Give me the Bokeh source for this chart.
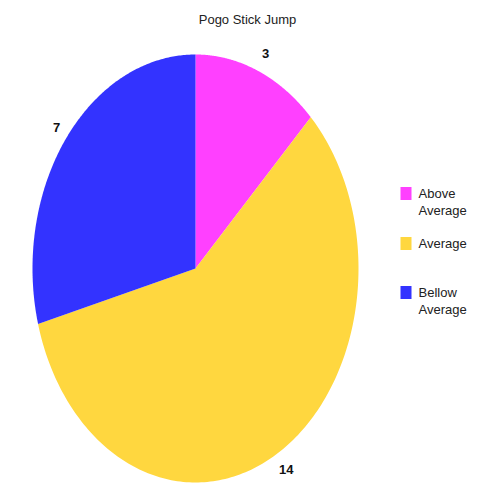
import numpy as np
from bokeh.plotting import figure
from bokeh.core.properties import value
from bokeh.embed import file_html
from bokeh.resources import INLINE

title = "Pogo Stick Jump"
categories = ["Above Average", "Average", "Bellow Average"]
legend_lines = [["Above", "Average"], ["Average"], ["Bellow", "Average"]]
values = [3, 14, 7]
colors = ["#FF40FF", "#FFD73F", "#3333FF"]

# layout (page pixel coordinates)
cx, cy, rx, ry = 195, 268, 163, 214
font = value("Liberation Sans")

p = figure(width=485, height=485, x_range=(0, 485), y_range=(485, 0),
           output_backend="svg", toolbar_location=None, min_border=0)
p.axis.visible = False
p.grid.visible = False
p.outline_line_color = None
p.background_fill_color = "white"

total = sum(values)
start = 0.0
xs, ys, lx, ly = [], [], [], []
for v in values:
    end = start + v / total * 2 * np.pi
    t = np.linspace(start, end, 200)
    xs.append([cx] + list(cx + rx * np.sin(t)) + [cx])
    ys.append([cy] + list(cy - ry * np.cos(t)) + [cy])
    m = (start + end) / 2
    lx.append(cx + 1.09 * rx * np.sin(m) + 2)
    ly.append(cy - 1.085 * ry * np.cos(m))
    start = end

p.patches(xs=xs, ys=ys, fill_color=colors, line_color=None)
p.text(x=lx, y=ly, text=[str(v) for v in values], text_font=font,
       text_font_style="bold", text_font_size="13px", text_color="#111111",
       text_align="center", text_baseline="middle")

# title
p.text(x=[247], y=[19], text=[title], text_font=font, text_font_size="13px",
       text_color="#222222", text_align="center", text_baseline="middle")

# legend
leg_y = [193, 243, 292]
for i, (lines, c) in enumerate(zip(legend_lines, colors)):
    p.rect(x=[405.5], y=[leg_y[i]], width=11, height=13, fill_color=c, line_color=None)
    for j, s in enumerate(lines):
        p.text(x=[418], y=[leg_y[i] + j * 17], text=[s], text_font=font,
               text_font_size="13px", text_color="#222222",
               text_align="left", text_baseline="middle")

open("out.html", "w").write(file_html(p, INLINE))
